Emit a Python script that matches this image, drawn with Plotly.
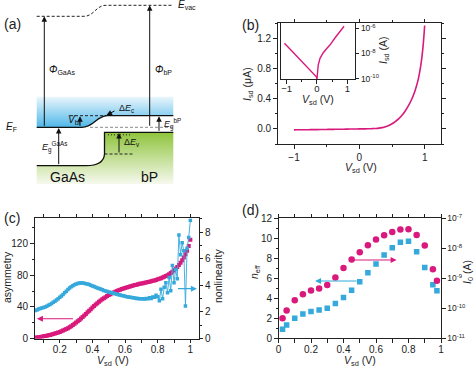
import plotly.graph_objects as go

W, H = 474, 368
MAG = "#d9197c"
BLU = "#35a9db"
FONT = "Liberation Sans, Arial, sans-serif"

# ---------------- panel (b): I-V ----------------
V_b = [-1.0, -0.95, -0.9, -0.85, -0.8, -0.75, -0.7, -0.65, -0.6, -0.55, -0.5, -0.45, -0.4, -0.35, -0.3,
       -0.25, -0.2, -0.15, -0.1, -0.05, 0.0, 0.05, 0.1, 0.15, 0.2, 0.25, 0.3, 0.35, 0.4, 0.45, 0.5,
       0.55, 0.6, 0.65, 0.7, 0.75, 0.8, 0.85, 0.9, 0.925, 0.95, 0.975, 1.0]
I_b = [-0.013, -0.012, -0.012, -0.011, -0.011, -0.010, -0.010, -0.009, -0.008, -0.008, -0.007, -0.006,
       -0.006, -0.005, -0.004, -0.004, -0.003, -0.002, -0.002, -0.001, 0.0, 0.0, 0.001, 0.002, 0.004,
       0.006, 0.010, 0.017, 0.028, 0.045, 0.068, 0.097, 0.133, 0.178, 0.235, 0.305, 0.39, 0.5, 0.65,
       0.76, 0.9, 1.09, 1.37]

# inset: |I| on log scale
V_in = [-1.07, -0.9, -0.7, -0.5, -0.3, -0.17, -0.08, -0.02, 0.0, 0.02, 0.04, 0.1, 0.2, 0.3, 0.43,
        0.59, 0.75, 0.89]
I_in = [6.6e-8, 2.5e-8, 7.9e-9, 2.5e-9, 7.9e-10, 3.2e-10, 2.0e-10, 1.4e-10, 8.9e-11, 4.0e-10,
        1.2e-9, 4.1e-9, 1.1e-8, 2.2e-8, 4.9e-8, 1.7e-7, 5.8e-7, 1.45e-6]
inset_ticks = [1e-10, 1e-8, 1e-6]
inset_ticktext = ["10<sup>-10</sup>", "10<sup>-8</sup>", "10<sup>-6</sup>"]

# ---------------- panel (c) ----------------
V_c = [round(0.05 + 0.01 * i, 2) for i in range(96)]
asymmetry = [1.0, 1.3, 1.6, 1.9, 2.3, 2.7, 3.1, 3.5, 4.0, 4.5, 5.0, 5.6, 6.2, 6.9, 7.6, 8.3, 9.1, 10.0,
             11.0, 12.0, 13.1, 14.3, 15.6, 17.0, 18.5, 20.1, 21.8, 23.5, 25.3, 27.2, 29.1, 31.1, 33.1,
             35.1, 37.1, 39.1, 41.0, 42.9, 44.7, 46.4, 48.0, 49.5, 50.9, 52.3, 53.6, 54.9, 56.0, 57.1,
             58.1, 59.1, 60.0, 60.9, 61.7, 62.5, 63.2, 63.9, 64.6, 65.2, 65.8, 66.4, 67.0, 67.6, 68.1,
             68.6, 69.1, 69.6, 70.0, 70.5, 70.9, 71.4, 71.9, 72.4, 72.9, 73.5, 74.1, 74.8, 75.5, 76.3,
             77.1, 78.0, 79.0, 80.1, 81.4, 82.8, 84.4, 86.2, 88.2, 90.5, 93.0, 95.8, 99.0, 102.5, 106.5,
             111.0, 117.0, 125.0]
nonlinearity = [2.10, 2.15, 2.22, 2.25, 2.30, 2.34, 2.38, 2.43, 2.50, 2.56, 2.63, 2.72, 2.80, 2.90, 3.00,
                3.10, 3.20, 3.32, 3.44, 3.56, 3.68, 3.80, 3.90, 3.98, 4.05, 4.10, 4.14, 4.17, 4.18, 4.18,
                4.16, 4.13, 4.10, 4.06, 4.01, 3.96, 3.91, 3.86, 3.81, 3.76, 3.72, 3.67, 3.62, 3.58, 3.54,
                3.50, 3.46, 3.43, 3.40, 3.36, 3.33, 3.30, 3.27, 3.24, 3.21, 3.18, 3.15, 3.12, 3.10, 3.08,
                3.06, 3.04, 3.02, 3.01, 3.00, 2.99, 3.00, 2.98, 3.02, 3.00, 3.06, 3.02, 3.12, 3.10, 3.25,
                3.15, 2.85, 3.70, 3.00, 3.85, 4.20, 3.45, 4.60, 3.60, 5.50, 4.20, 5.20, 4.50, 7.80, 6.30,
                7.20, 6.60, 2.45, 6.80, 7.60, 8.90]

# ---------------- panel (d) ----------------
V_d = [0.025, 0.05, 0.1, 0.15, 0.2, 0.25, 0.3, 0.35, 0.4, 0.45, 0.5, 0.55, 0.6, 0.65, 0.7, 0.75, 0.8,
       0.85, 0.9, 0.95, 0.975]
n_eff = [0.9, 1.34, 2.0, 2.44, 2.68, 2.84, 3.0, 3.48, 4.08, 4.8, 5.65, 6.55, 7.42, 8.33, 9.06, 9.6, 9.7,
         8.66, 7.09, 5.35, 4.75]
I_0 = [4.7e-11, 8.4e-11, 1.86e-10, 2.95e-10, 3.9e-10, 4.6e-10, 6.0e-10, 1.07e-9, 2.2e-9, 4.2e-9, 7.4e-9,
       1.26e-8, 1.95e-8, 2.7e-8, 3.5e-8, 4.2e-8, 4.3e-8, 2.8e-8, 1.23e-8, 2.0e-9, 8.3e-10]
d_right_ticks = [1e-11, 1e-10, 1e-9, 1e-8, 1e-7]
d_right_text = ["10<sup>-11</sup>", "10<sup>-10</sup>", "10<sup>-9</sup>", "10<sup>-8</sup>", "10<sup>-7</sup>"]

# ---------------- panel (a): band diagram geometry (schematic units = px of panel) ----------------
blue_x = [36.7, 173.3, 173.3, 108, 100.6, 95, 89.4, 82, 36.7]
blue_y = [96.7, 96.7, 115.7, 115.7, 117.5, 121.5, 125.5, 127.3, 127.3]
green_x = [104.5, 173.3, 173.3, 36.7, 36.7, 86, 95, 100, 103.5, 104.5]
green_y = [132.3, 132.3, 184, 184, 165.7, 165.7, 164.5, 161.5, 157.5, 154]
path_vac = "M36.7,16.3 L84,16.3 C94,16.3 96,5.3 106,5.3 L173.3,5.3"
path_cb = "M36.7,127.3 L82,127.3 C94,127.3 96,115.7 108,115.7 L173.3,115.7"
path_vb = "M36.7,165.7 L86,165.7 C98,165.7 104,162 104.5,154 L104.5,132.3 L173.3,132.3"
path_ef = "M90,127.3 L173.3,127.3"
path_vbi = "M70,115.7 L106,115.7"
path_dev = "M104.5,154 L133,154"
path_dot = "M108,134.8 L131,134.8"
arrows_a = [  # (x_tail, y_tail, x_tip, y_tip)
    (44.3, 127.3, 44.3, 16.3),
    (149.7, 127.3, 149.7, 5.3),
    (80, 127.3, 80, 116.2),
    (116, 110.2, 106.5, 115.2),
    (159, 132.3, 159, 116.2),
    (119, 154, 119, 133),
    (58.7, 165.7, 58.7, 128),
]
labels_a = [  # (text, x, y, size)
    ("<i>E</i><sub>vac</sub>", 176, 5, 10),
    ("<i>Φ</i><sub>GaAs</sub>", 47, 70, 10),
    ("<i>Φ</i><sub>bP</sub>", 153, 70, 10),
    ("<i>E</i><sub>F</sub>", 4, 127, 10),
    ("<i>V</i><sub>bi</sub>", 66, 120, 10),
    ("Δ<i>E</i><sub>c</sub>", 117, 108, 9),
    ("<i>E</i><sub>g</sub><sup>bP</sup>", 162, 124, 9),
    ("Δ<i>E</i><sub>v</sub>", 122, 142.5, 9),
    ("<i>E</i><sub>g</sub><sup>GaAs</sup>", 40, 147, 9),
    ("GaAs", 48, 177, 14),
    ("bP", 139, 177, 14),
]


def px(x):
    return x / W


def py(y):
    return 1 - y / H


fig = go.Figure()

# panel a fills
fig.add_trace(go.Scatter(x=green_x, y=green_y, xaxis="x5", yaxis="y7", mode="lines", fill="toself",
                         line=dict(width=0), hoverinfo="skip", showlegend=False,
                         fillgradient=dict(type="vertical", start=132.3, stop=184,
                                           colorscale=[[0, "#8fc43c"], [1, "#f6f9ee"]])))
fig.add_trace(go.Scatter(x=blue_x, y=blue_y, xaxis="x5", yaxis="y7", mode="lines", fill="toself",
                         line=dict(width=0), hoverinfo="skip", showlegend=False,
                         fillgradient=dict(type="vertical", start=127.3, stop=96.7,
                                           colorscale=[[0, "#4fb8e9"], [1, "#eaf6fc"]])))

# panel b
fig.add_trace(go.Scatter(x=V_b, y=I_b, mode="lines", line=dict(color=MAG, width=1.6, shape="spline"),
                         xaxis="x", yaxis="y", showlegend=False))
fig.add_trace(go.Scatter(x=V_in, y=I_in, mode="lines", line=dict(color=MAG, width=1.4),
                         xaxis="x2", yaxis="y2", showlegend=False))

# panel c
fig.add_trace(go.Scatter(x=V_c, y=asymmetry, mode="markers",
                         marker=dict(color=MAG, size=4, symbol="square"),
                         xaxis="x3", yaxis="y3", showlegend=False))
fig.add_trace(go.Scatter(x=V_c, y=nonlinearity, mode="lines+markers",
                         line=dict(color=BLU, width=0.9),
                         marker=dict(color=BLU, size=3.5, symbol="square"),
                         xaxis="x3", yaxis="y4", showlegend=False))

# panel d
fig.add_trace(go.Scatter(x=V_d, y=I_0, mode="markers", marker=dict(color=MAG, size=6.5, symbol="circle"),
                         xaxis="x4", yaxis="y6", showlegend=False))
fig.add_trace(go.Scatter(x=V_d, y=n_eff, mode="markers", marker=dict(color=BLU, size=5.5, symbol="square"),
                         xaxis="x4", yaxis="y5", showlegend=False))

tickfont = dict(family=FONT, size=10, color="#222")


def ax(**kw):
    base = dict(showgrid=False, zeroline=False, showline=True, linecolor="#222", linewidth=1,
                ticks="outside", ticklen=3.5, tickwidth=1, tickcolor="#222", tickfont=tickfont,
                automargin=False)
    base.update(kw)
    return base


minor = lambda d: dict(dtick=d, ticks="outside", ticklen=2, tickcolor="#222")
small_log = dict(family=FONT, size=8.5, color="#222")

fig.update_layout(
    width=W, height=H, margin=dict(l=0, r=0, t=0, b=0),
    paper_bgcolor="white", plot_bgcolor="white", font=dict(family=FONT, size=10, color="#222"),
    # panel b main
    xaxis=ax(domain=[px(277.7), px(441)], range=[-1.25, 1.25], tick0=0, dtick=1, mirror="allticks",
             minor=minor(0.5), anchor="y"),
    yaxis=ax(domain=[py(144), py(23.3)], range=[-0.2, 1.4], tick0=0, dtick=0.4, tickformat=".1f",
             mirror="allticks", minor=minor(0.2), anchor="x"),
    # inset
    xaxis2=ax(domain=[px(280.5), px(354.7)], range=[-1.2, 1.24], tick0=0, dtick=1, mirror=True,
              minor=minor(0.5), anchor="y2", ticklabelstandoff=-3,
              tickfont=dict(family=FONT, size=9.5, color="#222")),
    yaxis2=ax(domain=[py(79.3), py(23.3)], type="log", range=[-10.05, -5.6], side="right",
              tickvals=inset_ticks, ticktext=inset_ticktext, mirror=True, anchor="x2",
              tickfont=small_log),
    # panel c
    xaxis3=ax(domain=[px(34.5), px(198.5)], range=[0.045, 1.05], tick0=0.2, dtick=0.2,
              mirror="allticks", minor=minor(0.1), anchor="y3", ticklabelstandoff=-2),
    yaxis3=ax(domain=[py(338.5), py(218.3)], range=[0, 152], tick0=0, dtick=40, minor=minor(20),
              anchor="x3"),
    yaxis4=ax(domain=[py(338.5), py(218.3)], range=[0, 9.05], tick0=0, dtick=2, minor=minor(1),
              overlaying="y3", side="right", anchor="x3"),
    # panel d
    xaxis4=ax(domain=[px(278.5), px(441)], range=[0, 1], tick0=0, dtick=0.2, mirror="allticks",
              minor=minor(0.1), anchor="y5", ticklabelstandoff=-2),
    yaxis5=ax(domain=[py(338.3), py(218.3)], range=[0, 12], tick0=0, dtick=2, minor=minor(1),
              anchor="x4"),
    yaxis6=ax(domain=[py(338.3), py(218.3)], type="log", range=[-11, -7], tickvals=d_right_ticks,
              ticktext=d_right_text, overlaying="y5", side="right", anchor="x4", tickfont=small_log),
    # panel a (schematic canvas)
    xaxis5=dict(domain=[0, px(237)], range=[0, 237], visible=False, anchor="y7", fixedrange=True),
    yaxis7=dict(domain=[py(184), 1], range=[184, 0], visible=False, anchor="x5", fixedrange=True),
)

# panel a lines
shapes = []
for p, dash, col, w in [(path_vac, "3px,2px", "#222", 1), (path_ef, "3px,2px", "#8a8a8a", 1),
                        (path_vbi, "3px,2px", "#222", 1), (path_dev, "3px,2px", "#222", 1),
                        (path_dot, "1px,2px", "#222", 1),
                        (path_cb, "solid", "#111", 1.3), (path_vb, "solid", "#111", 1.3)]:
    shapes.append(dict(type="path", path=p, xref="x5", yref="y7",
                       line=dict(color=col, width=w, dash=dash), layer="above"))
fig.update_layout(shapes=shapes)

ann = []
for (xt, yt, xh, yh) in arrows_a:
    ann.append(dict(x=xh, y=yh, ax=xt, ay=yt, xref="x5", yref="y7", axref="x5", ayref="y7",
                    text="", showarrow=True, arrowhead=2, arrowsize=1.1, arrowwidth=1,
                    arrowcolor="#111", standoff=0, startstandoff=0))
for (t, x, y, s) in labels_a:
    ann.append(dict(x=x, y=y, xref="x5", yref="y7", text=t, showarrow=False, xanchor="left",
                    yanchor="middle", font=dict(family=FONT, size=s, color="#111")))

# data arrows c and d
ann += [
    dict(x=0.06, y=25, ax=0.29, ay=25, xref="x3", yref="y3", axref="x3", ayref="y3", text="",
         showarrow=True, arrowhead=2, arrowsize=1, arrowwidth=1.2, arrowcolor=MAG, standoff=0),
    dict(x=1.04, y=3.75, ax=0.915, ay=3.75, xref="x3", yref="y4", axref="x3", ayref="y4", text="",
         showarrow=True, arrowhead=2, arrowsize=1, arrowwidth=1.2, arrowcolor=BLU, standoff=0),
    dict(x=0.727, y=7.83, ax=0.45, ay=7.83, xref="x4", yref="y5", axref="x4", ayref="y5", text="",
         showarrow=True, arrowhead=2, arrowsize=1, arrowwidth=1.2, arrowcolor=MAG, standoff=0),
    dict(x=0.225, y=5.73, ax=0.49, ay=5.73, xref="x4", yref="y5", axref="x4", ayref="y5", text="",
         showarrow=True, arrowhead=2, arrowsize=1, arrowwidth=1.2, arrowcolor=BLU, standoff=0),
]


# titles and panel labels (paper coords)
def lab(text, x, y, size=10.5, angle=0):
    return dict(x=px(x), y=py(y), xref="paper", yref="paper", text=text, showarrow=False,
                textangle=angle, xanchor="center", yanchor="middle",
                font=dict(family=FONT, size=size, color="#222"))


ann += [
    lab("(a)", 12, 24, 14), lab("(b)", 250, 25, 14), lab("(c)", 12, 218, 14), lab("(d)", 250, 210, 14),
    lab("<i>I</i><sub>sd</sub> (μA)", 248, 84, 10.5, -90),
    lab("<i>V</i><sub>sd</sub> (V)", 361, 168),
    lab("<i>V</i><sub>sd</sub> (V)", 318, 100),
    lab("<i>I</i><sub>sd</sub> (A)", 384, 50, 10.5, -90),
    lab("asymmetry", 7, 277, 10.5, -90),
    lab("nonlinearity", 218, 276, 10.5, -90),
    lab("<i>V</i><sub>sd</sub> (V)", 113, 361),
    lab("<i>n</i><sub>eff</sub>", 255, 272, 10.5, -90),
    lab("<i>I</i><sub>0</sub> (A)", 468, 272, 10.5, -90),
    lab("<i>V</i><sub>sd</sub> (V)", 360, 360.5),
]
fig.update_layout(annotations=ann)

fig.write_html("out.html", config={"displayModeBar": False},
               post_script="document.body.style.margin='0';document.body.style.padding='0';")
